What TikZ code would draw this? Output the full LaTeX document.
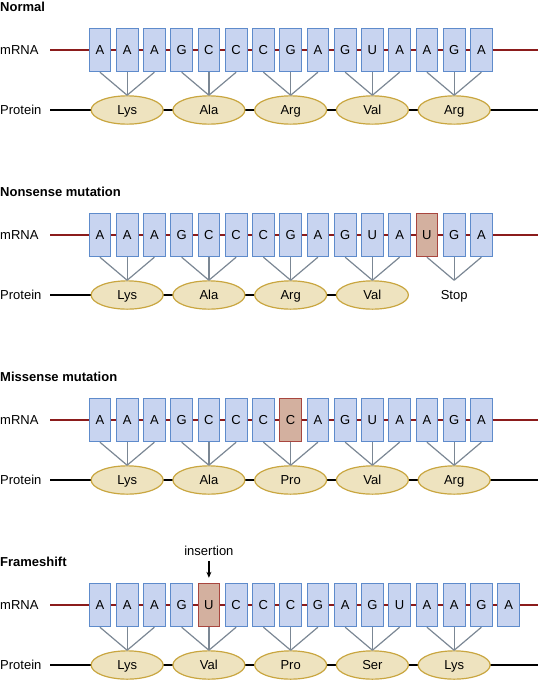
\documentclass[tikz,border=0pt]{standalone}
\usepackage{fontspec}
\setmainfont{Liberation Sans}
\usetikzlibrary{arrows.meta,shapes.geometric}
\definecolor{nucfill}{HTML}{C8D4F0}
\definecolor{nucline}{HTML}{5E8BCB}
\definecolor{mutfill}{HTML}{D3B09F}
\definecolor{mutline}{HTML}{A8463F}
\definecolor{aafill}{HTML}{EEE3BF}
\definecolor{aaline}{HTML}{C9A640}
\definecolor{rnared}{HTML}{8B1C1C}
\definecolor{linkgray}{HTML}{7B8794}

\begin{document}
\begin{tikzpicture}[x=1pt, y=-1pt, font=\fontsize{13}{15}\selectfont, % 1px = 1pt、y軸は下向き
  nuc/.style={draw=nucline, fill=nucfill, line width=1pt, minimum width=21.7pt, minimum height=43.4pt, inner sep=0pt, text height=9.3pt, text depth=0pt}, % 塩基
  mut/.style={nuc, draw=mutline, fill=mutfill}, % 変異した塩基
  amino/.style={ellipse, draw=aaline, fill=aafill, line width=1.2pt, minimum width=72pt, minimum height=28.3pt, inner sep=0pt, text height=9.3pt, text depth=0pt}, % アミノ酸
  codonlink/.style={draw=linkgray, line width=1.2pt}, % コドンの線
  rna/.style={draw=rnared, line width=2pt}, % mRNA鎖
  backbone/.style={draw=black, line width=2.5pt}, % タンパク質鎖
  heading/.style={anchor=base west, inner sep=0pt, font=\fontsize{13}{15}\selectfont\bfseries}, % 見出し
  lab/.style={anchor=base west, inner sep=0pt}] % 左のラベル
  \useasboundingbox (0,0) rectangle (538,680); % 余白込みの大きさ

  % Normal
  \node[heading] at (0,11) {Normal};
  \node[lab] (rna1) at (0,54.7) {mRNA};
  \node[lab] (pro1) at (0,114.7) {Protein};
  \draw[rna] (50,50) -- (538,50);
  \draw[backbone] (50,110) -- (538,110);
  \foreach \b [count=\i] in {A,A,A,G,C,C,C,G,A,G,U,A,A,G,A}
    \node[nuc] (n\i) at ({99.9+27.25*(\i-1)},50) {\b};
  \foreach \a [count=\j] in {Lys,Ala,Arg,Val,Arg}
    \node[amino] (na\j) at ({127.15+81.75*(\j-1)},110) {\a};
  \foreach \m [evaluate=\m as \j using int((\m+2)/3)] in {1,...,15}
    \draw[codonlink] (n\m.south) -- (na\j.north);

  % Nonsense mutation
  \node[heading] at (0,196) {Nonsense mutation};
  \node[lab] (rna2) at (0,239.7) {mRNA};
  \node[lab] (pro2) at (0,299.7) {Protein};
  \draw[rna] (50,235) -- (538,235);
  \draw[backbone] (50,295) -- (372.4,295); % Valで終わる
  \foreach \b/\s [count=\i] in {A/nuc,A/nuc,A/nuc,G/nuc,C/nuc,C/nuc,C/nuc,G/nuc,A/nuc,G/nuc,U/nuc,A/nuc,U/mut,G/nuc,A/nuc}
    \node[\s] (s\i) at ({99.9+27.25*(\i-1)},235) {\b};
  \foreach \a [count=\j] in {Lys,Ala,Arg,Val}
    \node[amino] (sa\j) at ({127.15+81.75*(\j-1)},295) {\a};
  \node[amino, draw=none, fill=none] (sa5) at (454.15,295) {Stop}; % 終止コドン
  \foreach \m [evaluate=\m as \j using int((\m+2)/3)] in {1,...,15}
    \draw[codonlink] (s\m.south) -- (sa\j.north);

  % Missense mutation
  \node[heading] at (0,381) {Missense mutation};
  \node[lab] (rna3) at (0,424.7) {mRNA};
  \node[lab] (pro3) at (0,484.7) {Protein};
  \draw[rna] (50,420) -- (538,420);
  \draw[backbone] (50,480) -- (538,480);
  \foreach \b/\s [count=\i] in {A/nuc,A/nuc,A/nuc,G/nuc,C/nuc,C/nuc,C/nuc,C/mut,A/nuc,G/nuc,U/nuc,A/nuc,A/nuc,G/nuc,A/nuc}
    \node[\s] (m\i) at ({99.9+27.25*(\i-1)},420) {\b};
  \foreach \a [count=\j] in {Lys,Ala,Pro,Val,Arg}
    \node[amino] (ma\j) at ({127.15+81.75*(\j-1)},480) {\a};
  \foreach \m [evaluate=\m as \j using int((\m+2)/3)] in {1,...,15}
    \draw[codonlink] (m\m.south) -- (ma\j.north);

  % Frameshift
  \node[heading] at (0,566) {Frameshift};
  \node[lab] (rna4) at (0,609.7) {mRNA};
  \node[lab] (pro4) at (0,669.7) {Protein};
  \draw[rna] (50,605) -- (538,605);
  \draw[backbone] (50,665) -- (538,665);
  \foreach \b/\s [count=\i] in {A/nuc,A/nuc,A/nuc,G/nuc,U/mut,C/nuc,C/nuc,C/nuc,G/nuc,A/nuc,G/nuc,U/nuc,A/nuc,A/nuc,G/nuc,A/nuc}
    \node[\s] (f\i) at ({99.9+27.25*(\i-1)},605) {\b};
  \foreach \a [count=\j] in {Lys,Val,Pro,Ser,Lys}
    \node[amino] (fa\j) at ({127.15+81.75*(\j-1)},665) {\a};
  \foreach \m [evaluate=\m as \j using int((\m+2)/3)] in {1,...,15}
    \draw[codonlink] (f\m.south) -- (fa\j.north);
  \node[inner sep=0pt, text height=9.3pt, text depth=0pt] (ins) at (208.9,550.5) {insertion}; % 挿入
  \draw[line width=1.2pt, -{Stealth[length=6pt, width=5pt]}, shorten <=5.5pt, shorten >=5pt] (ins.south) -- (f5.north);

\end{tikzpicture}
\end{document}
